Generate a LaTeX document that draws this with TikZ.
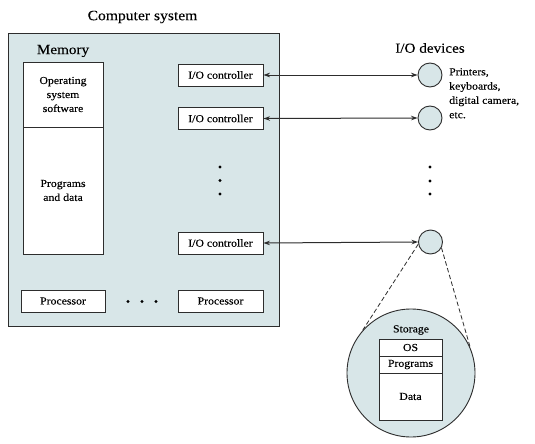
\documentclass[tikz,border=0pt]{standalone}
\usepackage{fontspec}
\setmainfont{Liberation Serif}[FakeStretch=1.1,FakeBold=0.12]
\usetikzlibrary{arrows.meta}
\definecolor{panel}{RGB}{216,230,232}
\definecolor{edge}{RGB}{45,45,45}
\begin{document}
\begin{tikzpicture}[x=1pt,y=-1pt,
  box/.style={draw=edge,line width=0.9pt,fill=white,inner sep=0pt,align=center,
    font=\fontsize{10.7}{14}\selectfont},
  dev/.style={circle,draw=edge,line width=0.9pt,fill=panel,minimum size=24pt,inner sep=0pt},
  link/.style={{Stealth[length=6.5pt,width=4.5pt]}-{Stealth[length=6.5pt,width=4.5pt]},draw=edge,line width=1pt},
  dotm/.style={circle,fill=black,inner sep=0pt,minimum size=3.4pt},
  lbl/.style={inner sep=0pt,font=\fontsize{13.8}{16}\selectfont},
  small/.style={inner sep=0pt,align=left,font=\fontsize{10.7}{14.3}\selectfont},
  dashl/.style={draw=edge,line width=0.8pt,dash pattern=on 4.5pt off 2.5pt}
]
\useasboundingbox[fill=white] (0,0) rectangle (535,444);
% computer system panel
\node[lbl,font=\fontsize{14.2}{16}\selectfont] (title) at (142.5,17) {Computer system};
\node[draw=edge,line width=1pt,fill=panel,minimum width=271pt,minimum height=292pt,inner sep=0pt] (sys) at (143.5,180) {};
\node[lbl] (memlbl) at (63,51) {Memory};
\node[box,minimum width=80pt,minimum height=65pt] (os) at (63,94.5) {Operating\\system\\software};
\node[box,minimum width=80pt,minimum height=127pt] (pd) at (63,190.5) {Programs\\and data};
% controllers
\node[box,minimum width=85pt,minimum height=22pt] (c1) at (220.5,75) {I/O controller};
\node[box,minimum width=85pt,minimum height=22pt] (c2) at (220.5,118.5) {I/O controller};
\node[box,minimum width=85pt,minimum height=22pt] (c3) at (220.5,243) {I/O controller};
\node[dotm] (ld1) at (220,167) {};
\node[dotm] (ld2) at (220,180.5) {};
\node[dotm] (ld3) at (220,194) {};
% processors
\node[box,minimum width=84pt,minimum height=22pt] (p1) at (63,301) {Processor};
\node[box,minimum width=85pt,minimum height=22pt] (p2) at (220.5,301) {Processor};
\node[dotm] (hd1) at (128,301.5) {};
\node[dotm] (hd2) at (142,301.5) {};
\node[dotm] (hd3) at (156,301.5) {};
% devices
\node[lbl] (devlbl) at (430,48) {I/O devices};
\node[dev] (d1) at (430,75) {};
\node[dev] (d2) at (430,118) {};
\node[dev] (d3) at (430.5,242) {};
\node[small,anchor=north west] (dtext) at (449,68) {Printers,\\keyboards,\\digital camera,\\etc.};
\node[dotm] (rd1) at (430,167) {};
\node[dotm] (rd2) at (430,181) {};
\node[dotm] (rd3) at (430,194) {};
\draw[link] (c1.east) -- (d1.west);
\draw[link] (c2.east) -- (d2.west);
\draw[link] (c3.east) -- (d3.west);
% storage
\node[circle,draw=edge,line width=0.9pt,fill=panel,minimum size=128pt,inner sep=0pt] (stor) at (411,373) {};
\draw[dashl] (d3.190) -- (stor.139);
\draw[dashl] (d3.-28) -- (stor.23);
\node[inner sep=0pt,font=\fontsize{10.7}{12}\selectfont] (storlbl) at (411,330) {Storage};
\node[box,minimum width=63pt,minimum height=17pt] (sos) at (410.5,347.5) {OS};
\node[box,minimum width=63pt,minimum height=17pt] (sprog) at (410.5,364.5) {Programs};
\node[box,minimum width=63pt,minimum height=47pt] (sdata) at (410.5,396.5) {Data};
\end{tikzpicture}
\end{document}
